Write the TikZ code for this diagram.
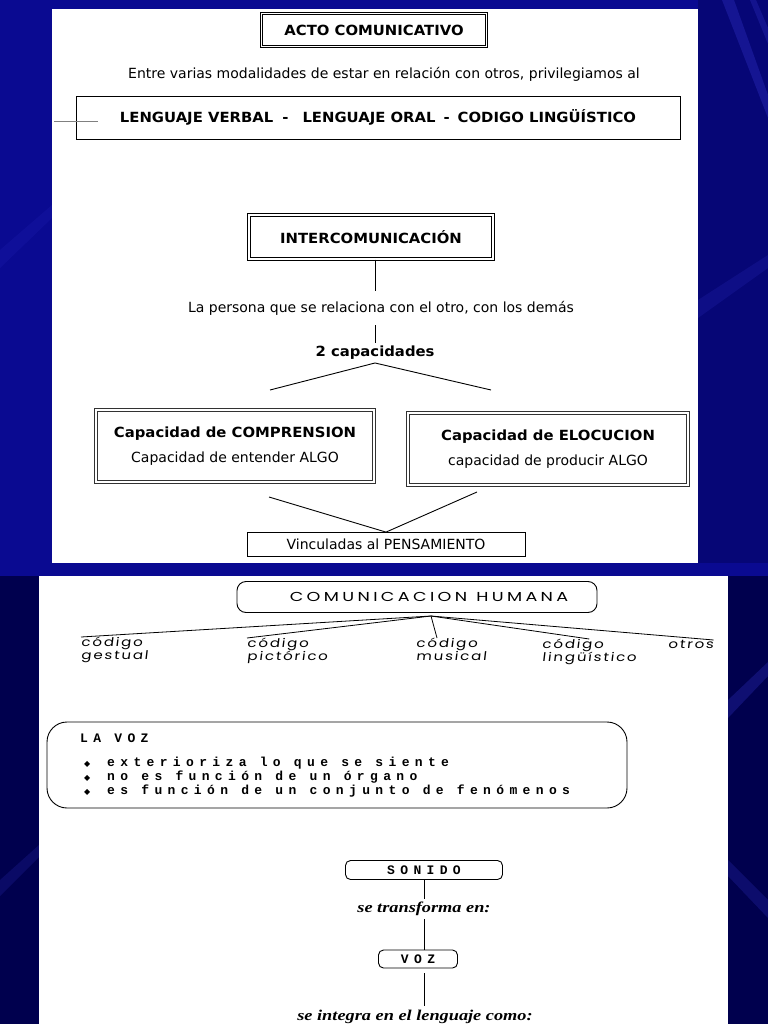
\documentclass[tikz,border=0pt]{standalone}
\usepackage{fontspec}
\usepackage{tikz}
\usetikzlibrary{positioning, calc}
\setmainfont{DejaVu Sans}
\newfontfamily\verd{DejaVu Sans}
\newfontfamily\verdw[FakeStretch=1.06]{DejaVu Sans}
\newfontfamily\geo[FakeStretch=1.35, LetterSpace=26]{Poppins}
\newfontfamily\geoit[FakeSlant=0.12, FakeStretch=1.25, LetterSpace=15]{Poppins}
\newfontfamily\typew{Liberation Mono}
\newfontfamily\bookit[FakeStretch=1.22]{Liberation Serif}
\newfontfamily\dejavu{DejaVu Sans}
\definecolor{slideblue}{RGB}{10,10,145}
\definecolor{slidedark}{RGB}{0,0,78}
\definecolor{streak}{RGB}{50,50,200}
\definecolor{boxgray}{RGB}{50,50,50}
% espacio entre letras para el texto de maquina de escribir
\XeTeXinterchartoks 0 0 = {\kern5.36pt}
\newcommand{\vozbullet}{\makebox[23pt][l]{\dejavu\fontsize{8}{8}\selectfont ◆}}
\newcommand{\wgap}{\hspace{13.2pt}}
\newcommand{\monofont}{\typew\bfseries\fontsize{13}{14}\selectfont\XeTeXinterchartokenstate 1\relax}
\newcommand{\humfont}{\geo\fontsize{13}{14}\selectfont}
\newcommand{\lblfont}{\geoit\fontsize{12}{13}\selectfont}

\tikzset{
  dblbox/.style={draw=black, double=white, double distance=1.5pt, line width=1pt,
                 inner sep=0pt, font=\verdw\bfseries\fontsize{14}{16}\selectfont},
  capbox/.style={dblbox, draw=boxgray, font=\verd\fontsize{14}{16}\selectfont,
                 align=center, minimum height=72pt},
  plainbox/.style={draw=black, line width=0.9pt, inner sep=0pt},
  txt/.style={inner sep=0pt, font=\verd\fontsize{14}{16}\selectfont},
  link/.style={draw=black, line width=0.9pt},
  roundbox/.style={draw=black, line width=0.9pt, inner sep=0pt},
  monotxt/.style={inner sep=0pt, anchor=base west, font=\monofont},
  lbl/.style={inner sep=0pt, anchor=north west, align=left, font=\lblfont},
  sansit/.style={inner sep=3pt, font=\bookit\bfseries\itshape\fontsize{15}{17}\selectfont}
}

\begin{document}
\begin{tikzpicture}[x=1pt, y=-1pt]
  \useasboundingbox (0,0) rectangle (768,1024);
  % fondo
  \fill[slideblue] (0,0) rectangle (768,1024);
  \fill[slidedark] (0,576) rectangle (39,1024);
  \fill[slidedark] (728,576) rectangle (768,1024);
  \fill[slidedark, opacity=.4] (698,0) rectangle (768,563);
  \fill[streak, opacity=.35] (722,0) -- (734,0) -- (768,95) -- (768,118) -- cycle;
  \fill[streak, opacity=.3] (750,0) -- (756,0) -- (768,28) -- (768,44) -- cycle;
  \fill[streak, opacity=.2] (698,300) -- (768,255) -- (768,268) -- (698,318) -- cycle;
  \fill[streak, opacity=.3] (728,700) -- (768,662) -- (768,676) -- (728,718) -- cycle;
  \fill[streak, opacity=.25] (728,860) -- (768,900) -- (768,918) -- (728,876) -- cycle;
  \fill[streak, opacity=.15] (0,250) -- (52,205) -- (52,218) -- (0,268) -- cycle;
  \fill[streak, opacity=.2] (0,880) -- (39,845) -- (39,857) -- (0,896) -- cycle;
  \fill[white] (52,9) rectangle (698,563);
  \fill[white] (39,576) rectangle (728,1024);

  % ---- acto comunicativo
  \node[dblbox, minimum width=225pt, minimum height=33pt] (acto) at (374,30) {ACTO COMUNICATIVO};
  \node[txt] (entre) at (384,74)
    {Entre varias modalidades de estar en relación con otros, privilegiamos al};
  \node[plainbox, minimum width=604pt, minimum height=43pt,
        font=\verdw\bfseries\fontsize{14}{16}\selectfont] (leng) at (378,117.5)
    {LENGUAJE VERBAL\hspace{9pt}-\hspace{14pt}LENGUAJE ORAL\hspace{8pt}-\hspace{8pt}CODIGO LINGÜÍSTICO};
  \draw[gray, line width=.6pt] (54,121) -- (98,121);

  \node[dblbox, minimum width=244pt, minimum height=44pt] (inter) at (371,237) {INTERCOMUNICACIÓN};
  \node[txt, inner ysep=10pt] (persona) at (381,308)
    {La persona que se relaciona con el otro, con los demás};
  \node[txt, inner ysep=3pt, font=\verdw\bfseries\fontsize{14}{16}\selectfont] (dos) at (375,353)
    {2 capacidades};
  \draw[link] (dos.north |- inter.south) -- (dos.north |- persona.north);
  \draw[link] (dos.north |- persona.south) -- (dos.north);

  \coordinate (vL) at (270,390);
  \coordinate (vR) at (491,390);
  \draw[link] (vL) -- (dos.south) -- (vR);

  \node[capbox, minimum width=278pt] (compr) at (235,446)
    {{\verdw\bfseries Capacidad de COMPRENSION}\\[9pt] Capacidad de entender ALGO};
  \node[capbox, minimum width=280pt] (eloc) at (548,449)
    {{\verdw\bfseries Capacidad de ELOCUCION}\\[9pt] capacidad de producir ALGO};

  \node[plainbox, line width=0.8pt, minimum width=278pt, minimum height=24pt,
        font=\verd\fontsize{14}{16}\selectfont] (vinc) at (386,544.5) {Vinculadas al PENSAMIENTO};
  \coordinate (wL) at (269,497);
  \coordinate (wR) at (477,492);
  \draw[link] (wL) -- (vinc.north) -- (wR);

  % ---- comunicacion humana
  \node[roundbox, rounded corners=9pt, minimum width=360pt, minimum height=31pt,
        font=\humfont] (human) at (417,597)
    {\hspace*{24pt}COMUNICACION\hspace{9pt}HUMANA};
  \coordinate (hub) at (431,616);
  \node[lbl] (gest) at (81,637) {código\\gestual};
  \node[lbl] (pict) at (247,638) {código\\pictórico};
  \node[lbl] (musi) at (416,638) {código\\musical};
  \node[lbl] (ling) at (542,639) {código\\lingüístico};
  \node[lbl] (otro) at (668,640) {otros};
  \draw[link, line width=0.8pt] (hub) -- (gest.north west);
  \draw[link, line width=0.8pt] (hub) -- (pict.north west);
  \draw[link, line width=0.8pt] (hub) -- ([xshift=21pt]musi.north west);
  \draw[link, line width=0.8pt] (hub) -- (ling.north);
  \draw[link, line width=0.8pt] (hub) -- (otro.north east);

  % ---- la voz
  \node[roundbox, rounded corners=20pt, minimum width=580pt, minimum height=86pt] (lavoz) at (337,765) {};
  \node[monotxt] (vtit) at (80,742) {LA\wgap VOZ};
  \node[monotxt] (v1) at (84,766) {\vozbullet exterioriza\wgap lo\wgap que\wgap se\wgap siente};
  \node[monotxt] (v2) at (84,780) {\vozbullet no\wgap es\wgap función\wgap de\wgap un\wgap órgano};
  \node[monotxt] (v3) at (84,794)
    {\vozbullet es\wgap función\wgap de\wgap un\wgap conjunto\wgap de\wgap fenómenos};

  % ---- sonido / voz
  \node[roundbox, rounded corners=5pt, minimum width=157pt, minimum height=19pt,
        font=\monofont] (sonido) at (424,870) {SONIDO};
  \node[sansit] (transf) at (424,909) {se transforma en:};
  \node[roundbox, rounded corners=5pt, minimum width=79pt, minimum height=18pt,
        font=\monofont] (voz) at (418,959) {VOZ};
  \node[sansit, inner ysep=4pt] (integra) at (415,1017) {se integra en el lenguaje como:};
  \draw[link] (sonido.south) -- (sonido.south |- transf.north);
  \draw[link] (sonido.south |- transf.south) -- (sonido.south |- voz.north);
  \draw[link] ([yshift=-5pt]sonido.south |- voz.south) -- (sonido.south |- integra.north);
\end{tikzpicture}
\end{document}
